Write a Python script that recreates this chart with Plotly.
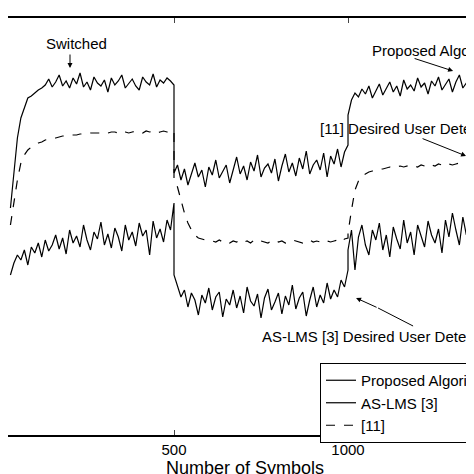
import numpy as np
import plotly.graph_objects as go

# Series values per segment (arbitrary units)
prop_s1 = [227,262,297,317,327,337,339,342,345,347,350,356,348,353,360,349,354,347,357,351,362,348,353,345,358,352,349,355,343,357,350,354,360,347,352,356,349,345,358,353,350,361,348,355,352,357,354,350]
prop_s2 = [262,270,255,266,250,262,272,258,265,248,268,260,275,257,264,270,252,266,278,261,269,255,273,264,280,258,267,271,262,276,254,269,281,263,272,259,277,266,284,261,270,275,265,282,258,279,271,286,268,283,290]
prop_s3 = [320,335,342,338,346,341,349,337,344,351,340,347,353,343,349,339,355,346,350,344,357,348,352,341,354,349,358,345,351,356,343,353,360,347,352,349,356,344,351]

ref11_s1 = [210,232,255,272,280,285,288,290,292,293,295,296,297,297,298,299,299,300,300,300,301,301,301,302,302,302,302,303,302,303,303,302,304,303,302,303,304,303,302,304,303,304,302,303,304,303,302,304]
ref11_s2 = [257,248,235,222,212,205,200,197,196,195,194,194,193,195,193,194,192,194,193,195,193,194,192,195,193,194,193,192,194,195,193,194,192,193,195,194,193,192,194,195,193,194,193,195,194,193,194,195,193,196,197]
ref11_s3 = [202,225,245,254,259,261,263,264,265,266,266,267,268,267,268,269,268,269,270,269,268,270,269,271,270,269,271,270,272,271,270,271,272,270,271,272,271,270,272]

aslms_s1 = [160,172,180,175,185,170,188,182,192,178,195,184,190,200,186,197,181,205,192,199,188,210,195,185,203,196,213,190,201,187,207,198,184,210,195,203,189,212,199,205,180,214,197,206,193,215,205,232]
aslms_s2 = [160,150,138,145,128,142,135,120,140,132,147,125,138,143,118,136,130,145,127,139,122,148,134,129,141,117,137,146,125,133,142,121,139,130,150,126,137,143,119,135,148,128,140,132,152,136,145,138,155,148,165]
aslms_s3 = [185,205,165,198,210,190,180,205,195,212,185,200,178,208,196,186,215,192,203,180,210,198,188,214,200,192,206,182,215,198,222,205,190,218,200,226,208,195,220]

segments = [(30, 500), (500, 1000), (1000, 1380)]
tick_vals = [500, 1000]

def build(parts):
    xs, ys = [], []
    for (a, b), seg in zip(segments, parts):
        xs += list(np.linspace(a, b, len(seg)))
        ys += seg
    return xs, ys

fig = go.Figure()
for name, parts, dash in [("Proposed Algorithm", [prop_s1, prop_s2, prop_s3], "solid"),
                          ("AS-LMS [3]", [aslms_s1, aslms_s2, aslms_s3], "solid"),
                          ("[11]", [ref11_s1, ref11_s2, ref11_s3], "dash")]:
    x, y = build(parts)
    fig.add_trace(go.Scatter(x=x, y=y, mode="lines", name=name,
                             line=dict(color="black", width=1.2, dash=dash)))

def px(p):
    return 23 + p * 2.874

def py(p):
    return 427 - p

font = dict(family="Liberation Sans, Arial", size=15, color="black")
ann = [
    dict(x=px(68), y=py(35), text="Switched", showarrow=False),
    dict(x=px(362), y=py(42), text="Proposed Algorithm", showarrow=False, xanchor="left"),
    dict(x=px(310), y=py(120), text="[11] Desired User Detection", showarrow=False, xanchor="left"),
    dict(x=px(252), y=py(328), text="AS-LMS [3] Desired User Detection", showarrow=False, xanchor="left"),
]
for (x0, y0, x1, y1) in [(62, 45, 62, 60), (405, 50, 445, 63), (413, 130, 458, 148), (370, 300, 348, 290)]:
    ann.append(dict(x=px(x1), y=py(y1), ax=px(x0), ay=py(y0), axref="x", ayref="y",
                    xref="x", yref="y", text="", showarrow=True, arrowhead=2,
                    arrowsize=1, arrowwidth=1, arrowcolor="black"))
fig.add_shape(type="line", x0=px(405), y0=py(318), x1=px(370), y1=py(300), line=dict(color="black", width=1))
for a in ann:
    a.setdefault("font", font)

fig.update_layout(
    width=474, height=474, margin=dict(l=0, r=0, t=10, b=47, autoexpand=False),
    plot_bgcolor="white", paper_bgcolor="white", font=font,
    annotations=ann,
    legend=dict(x=312/474, y=(427-355)/417, xanchor="left", yanchor="top",
                bordercolor="black", borderwidth=1, bgcolor="white",
                font=dict(family="Liberation Sans, Arial", size=15), tracegroupgap=0),
    xaxis=dict(range=[23, 1385], tickvals=tick_vals, ticks="inside", ticklen=5,
               showline=True, linecolor="black", linewidth=1.5, mirror="ticks", showgrid=False,
               zeroline=False, automargin=False, title=dict(text="Number of Symbols", standoff=4)),
    yaxis=dict(range=[0, 417], showticklabels=False, showgrid=False, zeroline=False,
               showline=False, ticks="", automargin=False),
)
fig.write_html("out.html")
